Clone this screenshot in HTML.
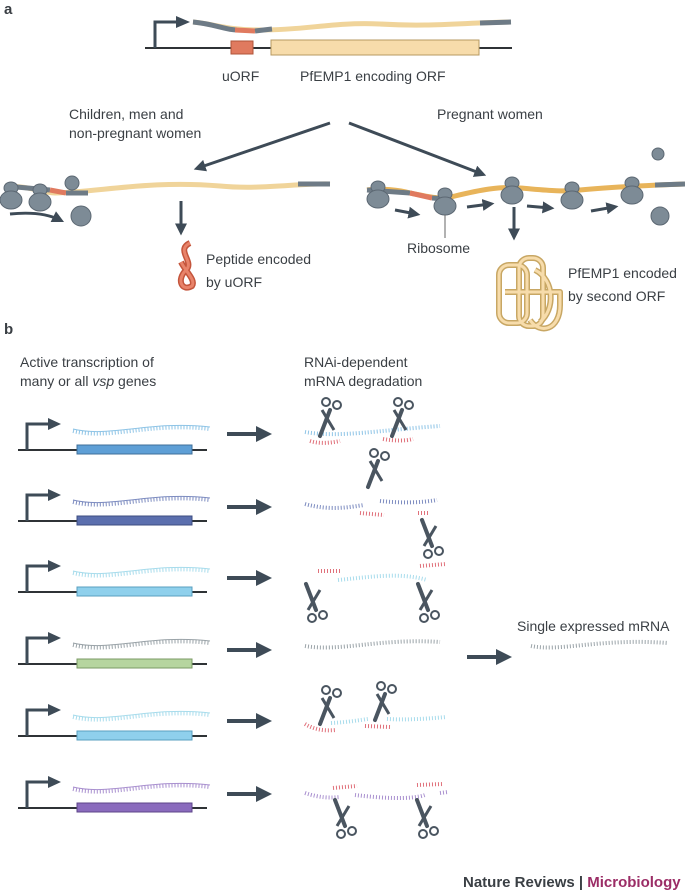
<!DOCTYPE html>
<html><head><meta charset="utf-8"><style>
body{margin:0;background:#fff}
svg{display:block}
text{font-family:"Liberation Sans",sans-serif;fill:#3a3f44}
</style></head><body>
<svg width="685" height="891" viewBox="0 0 685 891" xmlns="http://www.w3.org/2000/svg">
<defs>
<marker id="ah" markerWidth="4" markerHeight="4" refX="2.5" refY="2" orient="auto" markerUnits="strokeWidth"><path d="M0,0 L4,2 L0,4 z" fill="#3e4b57"/></marker>
<g id="sc"><line x1="0" y1="0" x2="-10" y2="26" stroke="#4a5560" stroke-width="4" stroke-linecap="round"/><line x1="-8" y1="0" x2="4" y2="20" stroke="#4a5560" stroke-width="3"/><circle cx="7" cy="-5" r="4" fill="none" stroke="#4a5560" stroke-width="2"/><circle cx="-4" cy="-8" r="4" fill="none" stroke="#4a5560" stroke-width="2"/></g>
<g id="rib"><ellipse cx="0" cy="-7" rx="7" ry="6" fill="#7d8b96" stroke="#5c6873"/><ellipse cx="0" cy="5" rx="11" ry="9" fill="#7d8b96" stroke="#5c6873"/></g>
</defs>
<text x="4" y="14" font-weight="bold" font-size="15">a</text>
<line x1="145" y1="48" x2="512" y2="48" stroke="#2f3336" stroke-width="2"/>
<path d="M155,48 V22 H178" fill="none" stroke="#3e4b57" stroke-width="3"/>
<path d="M176,16 L190,22 L176,28 z" fill="#3e4b57"/>
<rect x="231" y="41" width="22" height="13" fill="#e07a5f" stroke="#b0543a"/>
<rect x="271" y="40" width="208" height="15" fill="#f7dcab" stroke="#b79a60"/>
<path d="M193,22 C215,24 225,30 260,30 C310,30 330,22 380,24 C430,27 460,23 511,22" fill="none" stroke="#f0d49a" stroke-width="5"/>
<path d="M193,22 C215,24 225,30 237,30" fill="none" stroke="#6e7b86" stroke-width="5"/>
<path d="M235,30 L255,31" stroke="#e07a5f" stroke-width="5"/>
<path d="M255,31 L272,29" stroke="#6e7b86" stroke-width="5"/>
<path d="M480,23 L511,22" stroke="#6e7b86" stroke-width="5"/>
<text x="222" y="81" font-size="14">uORF</text>
<text x="300" y="81" font-size="14">PfEMP1 encoding ORF</text>
<text x="69" y="119" font-size="14">Children, men and</text>
<text x="69" y="138" font-size="14">non-pregnant women</text>
<text x="437" y="119" font-size="14">Pregnant women</text>
<line x1="330" y1="123" x2="198" y2="168" stroke="#3e4b57" stroke-width="3" marker-end="url(#ah)"/>
<line x1="349" y1="123" x2="482" y2="174" stroke="#3e4b57" stroke-width="3" marker-end="url(#ah)"/>
<path d="M5,186 C30,186 40,192 55,193 C100,192 150,180 220,186 C260,190 300,183 330,184" fill="none" stroke="#f0d49a" stroke-width="5"/>
<path d="M5,186 L50,190" stroke="#6e7b86" stroke-width="5"/>
<path d="M50,190 L66,193" stroke="#e07a5f" stroke-width="5"/>
<path d="M66,193 L88,193" stroke="#6e7b86" stroke-width="5"/>
<path d="M298,184 L330,184" stroke="#6e7b86" stroke-width="5"/>
<use href="#rib" x="11" y="195"/><use href="#rib" x="40" y="197"/>
<circle cx="72" cy="183" r="7" fill="#7d8b96" stroke="#5c6873"/>
<circle cx="81" cy="216" r="10" fill="#7d8b96" stroke="#5c6873"/>
<path d="M10,214 C30,212 48,214 60,220" fill="none" stroke="#3e4b57" stroke-width="3" marker-end="url(#ah)"/>
<line x1="181" y1="201" x2="181" y2="231" stroke="#3e4b57" stroke-width="3" marker-end="url(#ah)"/>
<path d="M190,243 C175,250 195,262 186,270 C176,280 182,292 192,286 C196,280 186,272 181,262" fill="none" stroke="#c4553c" stroke-width="6"/>
<path d="M190,243 C175,250 195,262 186,270 C176,280 182,292 192,286 C196,280 186,272 181,262" fill="none" stroke="#e8836a" stroke-width="3"/>
<text x="206" y="264" font-size="14">Peptide encoded</text>
<text x="206" y="287" font-size="14">by uORF</text>
<path d="M367,190 C380,188 400,190 410,193 C430,197 440,200 455,196 C480,190 500,186 520,188 C545,190 560,192 580,190 C600,188 630,186 685,184" fill="none" stroke="#e8b45a" stroke-width="5"/>
<path d="M367,190 L410,193" stroke="#6e7b86" stroke-width="5"/>
<path d="M410,193 L432,198" stroke="#e07a5f" stroke-width="5"/>
<path d="M432,198 L445,199" stroke="#6e7b86" stroke-width="5"/>
<path d="M655,185 L685,184" stroke="#6e7b86" stroke-width="5"/>
<use href="#rib" x="378" y="194"/><use href="#rib" x="445" y="201"/><use href="#rib" x="512" y="190"/><use href="#rib" x="572" y="195"/><use href="#rib" x="632" y="190"/>
<circle cx="658" cy="154" r="6" fill="#7d8b96" stroke="#5c6873"/>
<circle cx="660" cy="216" r="9" fill="#7d8b96" stroke="#5c6873"/>
<line x1="395" y1="210" x2="416" y2="214" stroke="#3e4b57" stroke-width="3" marker-end="url(#ah)"/>
<line x1="467" y1="207" x2="490" y2="204" stroke="#3e4b57" stroke-width="3" marker-end="url(#ah)"/>
<line x1="527" y1="206" x2="550" y2="208" stroke="#3e4b57" stroke-width="3" marker-end="url(#ah)"/>
<line x1="591" y1="211" x2="614" y2="207" stroke="#3e4b57" stroke-width="3" marker-end="url(#ah)"/>
<line x1="445" y1="215" x2="445" y2="238" stroke="#666" stroke-width="1"/>
<text x="407" y="253" font-size="14">Ribosome</text>
<line x1="514" y1="207" x2="514" y2="236" stroke="#3e4b57" stroke-width="3" marker-end="url(#ah)"/>
<g fill="none" stroke="#c8a764" stroke-width="6" stroke-linejoin="round">
<rect x="499" y="265" width="28" height="58" rx="10"/>
<rect x="519" y="258" width="24" height="68" rx="10"/>
<path d="M505,292 L560,292 L560,305 C560,330 540,335 530,320"/>
<path d="M535,270 C555,280 555,310 540,322"/>
</g>
<g fill="none" stroke="#f7dcab" stroke-width="3" stroke-linejoin="round">
<rect x="499" y="265" width="28" height="58" rx="10"/>
<rect x="519" y="258" width="24" height="68" rx="10"/>
<path d="M505,292 L560,292 L560,305 C560,330 540,335 530,320"/>
<path d="M535,270 C555,280 555,310 540,322"/>
</g>
<text x="568" y="278" font-size="14">PfEMP1 encoded</text>
<text x="568" y="301" font-size="14">by second ORF</text>
<text x="4" y="334" font-weight="bold" font-size="15">b</text>
<text x="20" y="367" font-size="14">Active transcription of</text>
<text x="20" y="386" font-size="14">many or all <tspan font-style="italic">vsp</tspan> genes</text>
<text x="304" y="367" font-size="14">RNAi-dependent</text>
<text x="304" y="386" font-size="14">mRNA degradation</text>
<g transform="translate(0,450)">
 <line x1="18" y1="0" x2="207" y2="0" stroke="#2f3336" stroke-width="2"/><path d="M27,0 V-26 H50" fill="none" stroke="#3e4b57" stroke-width="3"/><path d="M48,-32 L61,-26 L48,-20 z" fill="#3e4b57"/>
 <rect x="77" y="-5" width="115" height="9" fill="#5e9fd6" stroke="#3f6f99"/>
 <path d="M73,-19 C110,-10 150,-28 210,-21" fill="none" stroke="#8ec4e6" stroke-width="4" stroke-dasharray="1 2"/><path d="M73,-21 C110,-12 150,-30 210,-23" fill="none" stroke="#8ec4e6" stroke-width="1"/>
 <line x1="227" y1="-16" x2="266" y2="-16" stroke="#3e4b57" stroke-width="4" marker-end="url(#ah)"/>
 <path d="M305,-18 C340,-12 380,-20 440,-24" fill="none" stroke="#8ec4e6" stroke-width="4" stroke-dasharray="1 2"/>
 <path d="M310,-9 C320,-6 330,-7 340,-9 M383,-11 C395,-9 405,-9 413,-11" fill="none" stroke="#e0707a" stroke-width="4" stroke-dasharray="1 2"/>
 <use href="#sc" x="330" y="-40"/><use href="#sc" x="402" y="-40"/>
</g>
<g transform="translate(0,521)">
 <line x1="18" y1="0" x2="207" y2="0" stroke="#2f3336" stroke-width="2"/><path d="M27,0 V-26 H50" fill="none" stroke="#3e4b57" stroke-width="3"/><path d="M48,-32 L61,-26 L48,-20 z" fill="#3e4b57"/>
 <rect x="77" y="-5" width="115" height="9" fill="#5b6fae" stroke="#3e4c80"/>
 <path d="M73,-19 C110,-10 150,-28 210,-21" fill="none" stroke="#7d8cc0" stroke-width="4" stroke-dasharray="1 2"/><path d="M73,-21 C110,-12 150,-30 210,-23" fill="none" stroke="#7d8cc0" stroke-width="1"/>
 <line x1="227" y1="-14" x2="266" y2="-14" stroke="#3e4b57" stroke-width="4" marker-end="url(#ah)"/>
 <path d="M305,-17 C330,-10 350,-14 364,-16 M380,-20 C400,-18 420,-18 437,-21" fill="none" stroke="#7d8cc0" stroke-width="4" stroke-dasharray="1 2"/>
 <path d="M360,-8 L384,-6 M418,-8 L430,-8" fill="none" stroke="#e0707a" stroke-width="4" stroke-dasharray="1 2"/>
 <use href="#sc" x="378" y="-60"/><g transform="translate(432,-5) scale(1,-1)"><use href="#sc" x="0" y="-30"/></g>
</g>
<g transform="translate(0,592)">
 <line x1="18" y1="0" x2="207" y2="0" stroke="#2f3336" stroke-width="2"/><path d="M27,0 V-26 H50" fill="none" stroke="#3e4b57" stroke-width="3"/><path d="M48,-32 L61,-26 L48,-20 z" fill="#3e4b57"/>
 <rect x="77" y="-5" width="115" height="9" fill="#8fd0ec" stroke="#5a9fbf"/>
 <path d="M73,-19 C110,-10 150,-28 210,-21" fill="none" stroke="#a8dcec" stroke-width="4" stroke-dasharray="1 2"/><path d="M73,-21 C110,-12 150,-30 210,-23" fill="none" stroke="#a8dcec" stroke-width="1"/>
 <line x1="227" y1="-14" x2="266" y2="-14" stroke="#3e4b57" stroke-width="4" marker-end="url(#ah)"/>
 <path d="M338,-12 C370,-15 400,-20 427,-12" fill="none" stroke="#a8dcec" stroke-width="4" stroke-dasharray="1 2"/>
 <path d="M318,-21 L342,-21 M420,-26 L446,-28" fill="none" stroke="#e0707a" stroke-width="4" stroke-dasharray="1 2"/>
 <g transform="translate(316,-12) scale(1,-1)"><use href="#sc" x="0" y="-30"/></g><g transform="translate(428,-12) scale(1,-1)"><use href="#sc" x="0" y="-30"/></g>
</g>
<g transform="translate(0,664)">
 <line x1="18" y1="0" x2="207" y2="0" stroke="#2f3336" stroke-width="2"/><path d="M27,0 V-26 H50" fill="none" stroke="#3e4b57" stroke-width="3"/><path d="M48,-32 L61,-26 L48,-20 z" fill="#3e4b57"/>
 <rect x="77" y="-5" width="115" height="9" fill="#b6d59f" stroke="#7b9a65"/>
 <path d="M73,-19 C110,-10 150,-28 210,-21" fill="none" stroke="#9aa3a8" stroke-width="4" stroke-dasharray="1 2"/><path d="M73,-21 C110,-12 150,-30 210,-23" fill="none" stroke="#9aa3a8" stroke-width="1"/>
 <line x1="227" y1="-14" x2="266" y2="-14" stroke="#3e4b57" stroke-width="4" marker-end="url(#ah)"/>
 <path d="M305,-18 C340,-12 380,-26 440,-22" fill="none" stroke="#9aa3a8" stroke-width="4" stroke-dasharray="1 2"/>
 <line x1="467" y1="-7" x2="506" y2="-7" stroke="#3e4b57" stroke-width="4" marker-end="url(#ah)"/>
 <path d="M531,-18 C560,-12 600,-26 668,-21" fill="none" stroke="#9aa3a8" stroke-width="4" stroke-dasharray="1 2"/>
</g>
<text x="517" y="631" font-size="14">Single expressed mRNA</text>
<g transform="translate(0,736)">
 <line x1="18" y1="0" x2="207" y2="0" stroke="#2f3336" stroke-width="2"/><path d="M27,0 V-26 H50" fill="none" stroke="#3e4b57" stroke-width="3"/><path d="M48,-32 L61,-26 L48,-20 z" fill="#3e4b57"/>
 <rect x="77" y="-5" width="115" height="9" fill="#8fd0ec" stroke="#5a9fbf"/>
 <path d="M73,-19 C110,-10 150,-28 210,-21" fill="none" stroke="#a8dcec" stroke-width="4" stroke-dasharray="1 2"/><path d="M73,-21 C110,-12 150,-30 210,-23" fill="none" stroke="#a8dcec" stroke-width="1"/>
 <line x1="227" y1="-15" x2="266" y2="-15" stroke="#3e4b57" stroke-width="4" marker-end="url(#ah)"/>
 <path d="M331,-13 C350,-14 360,-16 368,-17 M387,-17 C405,-16 425,-17 446,-19" fill="none" stroke="#a8dcec" stroke-width="4" stroke-dasharray="1 2"/>
 <path d="M305,-12 C315,-6 325,-5 336,-6 M365,-10 L390,-9" fill="none" stroke="#e0707a" stroke-width="4" stroke-dasharray="1 2"/>
 <use href="#sc" x="330" y="-38"/><use href="#sc" x="385" y="-42"/>
</g>
<g transform="translate(0,808)">
 <line x1="18" y1="0" x2="207" y2="0" stroke="#2f3336" stroke-width="2"/><path d="M27,0 V-26 H50" fill="none" stroke="#3e4b57" stroke-width="3"/><path d="M48,-32 L61,-26 L48,-20 z" fill="#3e4b57"/>
 <rect x="77" y="-5" width="115" height="9" fill="#8a6bbd" stroke="#5d4589"/>
 <path d="M73,-19 C110,-10 150,-28 210,-21" fill="none" stroke="#a990cf" stroke-width="4" stroke-dasharray="1 2"/><path d="M73,-21 C110,-12 150,-30 210,-23" fill="none" stroke="#a990cf" stroke-width="1"/>
 <line x1="227" y1="-14" x2="266" y2="-14" stroke="#3e4b57" stroke-width="4" marker-end="url(#ah)"/>
 <path d="M305,-15 C320,-10 330,-10 340,-11 M355,-13 C380,-10 410,-8 425,-13 M440,-15 L448,-16" fill="none" stroke="#a990cf" stroke-width="4" stroke-dasharray="1 2"/>
 <path d="M333,-20 L357,-22 M417,-23 L443,-24" fill="none" stroke="#e0707a" stroke-width="4" stroke-dasharray="1 2"/>
 <g transform="translate(345,-12) scale(1,-1)"><use href="#sc" x="0" y="-30"/></g><g transform="translate(427,-12) scale(1,-1)"><use href="#sc" x="0" y="-30"/></g>
</g>
<text x="463" y="887" font-size="15" font-weight="bold" fill="#222">Nature Reviews | <tspan fill="#9b2d66">Microbiology</tspan></text>
</svg>
</body></html>
